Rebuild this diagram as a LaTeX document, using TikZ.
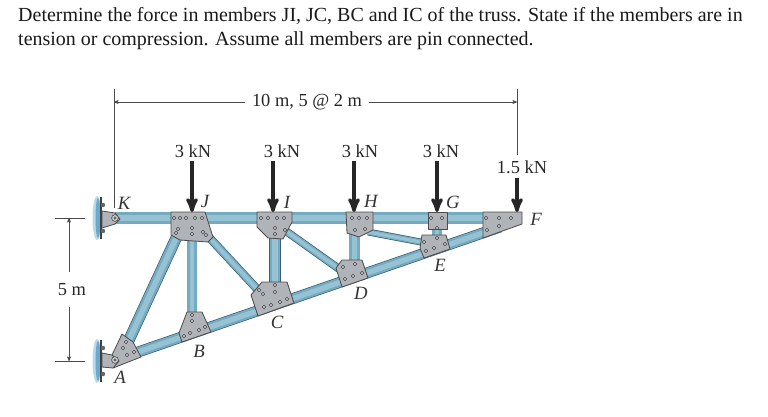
\documentclass[tikz,border=0pt]{standalone}
\usepackage{fontspec}
\setmainfont{Liberation Serif}
\usetikzlibrary{arrows}
\definecolor{steeldark}{RGB}{55,95,115}
\definecolor{steelblue}{RGB}{118,170,193}
\definecolor{steellight}{RGB}{150,195,212}
\definecolor{plategray}{RGB}{176,179,184}
\definecolor{wallblue}{RGB}{105,170,205}
\tikzset{
 plate/.style={draw=black!70, fill=plategray, line width=.7pt, line join=round},
 rivet/.style={draw=black!75, fill=plategray!60, line width=.5pt},
 load/.style={black!85, line width=2.8pt, ->, >=stealth'},
 dimline/.style={black!70, line width=.45pt, ->, >=stealth'},
 extline/.style={black!70, line width=.45pt},
 word/.style={font=\fontsize{15.7}{15.7}\selectfont, text=black!85, inner sep=2pt},
 joint/.style={font=\fontsize{16}{16}\selectfont\itshape, text=black!80, inner sep=0pt},
 title/.style={font=\fontsize{17.05}{17.05}\selectfont, anchor=base west, inner sep=0pt, text=black!90},
}
% one bar of the truss, w = width
\newcommand{\trussbar}[3]{
 \draw[steeldark, line width=#3*.85pt+.4pt] (#1) -- (#2);
 \draw[steelblue, line width=#3*.85pt-.8pt] (#1) -- (#2);
 \draw[steellight, line width=#3*.42pt] (#1) -- (#2);
}
\begin{document}
\begin{tikzpicture}[x=.03cm, y=-.03cm]
\useasboundingbox (0,0) rectangle (768,416);
\node[title] (line1) at (18,21) {Determine the force in members JI, JC, BC and IC of the truss. State if the members are in};
\node[title] (line2) at (18,45) {tension or compression. Assume all members are pin connected.};

% joints
\coordinate (K) at (115,218);
\coordinate (endF) at (490,218);
\coordinate (A) at (115,360);
\coordinate (endE) at (500,227);

% walls
\foreach \y in {218,361} {
 \fill[wallblue!45] (97,\y) ellipse (4.5 and 22);
 \fill[wallblue] (98,\y) ellipse (2.5 and 20);
 \fill[black!75] (99.5,\y-21) rectangle (101.5,\y+21);
 \fill[black!60] (103,\y-13) circle (2.2);
 \fill[black!60] (103,\y+13) circle (2.2);
}

% bars
\trussbar{K}{endF}{12}
\trussbar{A}{endE}{10.5}
\coordinate (a1) at (128,342); \coordinate (j1) at (178,234);
\trussbar{a1}{j1}{11}
\coordinate (j2) at (192,235); \coordinate (b1) at (192,316);
\trussbar{j2}{b1}{10}
\coordinate (j3) at (206,234); \coordinate (c1) at (258,290);
\trussbar{j3}{c1}{8}
\coordinate (i1) at (275,230); \coordinate (c2) at (275,288);
\trussbar{i1}{c2}{11}
\coordinate (i2) at (283,229); \coordinate (d1) at (342,271);
\trussbar{i2}{d1}{7.5}
\coordinate (h1) at (354.5,230); \coordinate (d2) at (354.5,265);
\trussbar{h1}{d2}{11}
\coordinate (h2) at (368,232); \coordinate (e1) at (426,243);
\trussbar{h2}{e1}{6.5}
\coordinate (g1) at (437,225); \coordinate (e2) at (437,238);
\trussbar{g1}{e2}{10}

% gusset plates
\draw[plate] (102,211)--(115,213)--(120,219)--(115,224)--(102,228)--cycle;
\draw[plate] (112,355)--(122,334)--(133,342)--(141,357)--(113,368)--cycle;
\draw[plate] (102,353)--(112,355)--(119,361)--(113,368)--(102,367)--cycle;
\draw[plate] (171,212)--(205,212)--(213,237)--(208,242)--(180,240)--(171,235)--cycle;
\draw[plate] (257,212)--(292,212)--(292,222)--(283,239)--(268,238)--(257,227)--cycle;
\draw[plate] (251,295)--(262,282)--(287,282)--(294,303)--(258,316)--cycle;
\draw[plate] (179,333)--(187,312)--(202,312)--(211,332)--(182,342)--cycle;
\draw[plate] (346,212)--(373,212)--(373,230)--(359,237)--(347,233)--cycle;
\draw[plate] (428,212)--(447,212)--(447,229)--(428,229)--cycle;
\draw[plate] (422,235)--(446,235)--(450,249)--(424,258)--(420,248)--cycle;
\draw[plate] (336,268)--(342,260)--(362,260)--(368,278)--(342,287)--cycle;
\draw[plate] (483,212)--(522,212)--(522,224)--(483,238)--cycle;

% rivets
\foreach \p in {(174,218),(180,218),(186,218),(195,218),(202,218),(178,229),(176,233),(192,228),(192,234),(203,232),(206,235),
 (261,218),(268,218),(277,218),(284,218),(275,228),(275,234),(285,230),
 (259,290),(263,294),(275,285),(275,292),(264,307),(271,305),(280,302),(287,299),
 (192,315),(192,321),(184,336),(190,333),(199,330),(205,327),
 (126,342),(123,348),(127,355),(134,352),
 (352,218),(359,218),(367,218),(355,230),(365,229),
 (431,218),(442,218),(437,228),
 (424,242),(437,238),(426,251),(434,248),(445,244),
 (343,267),(355,264),(345,279),(353,276),(362,273),
 (486,218),(499,218),(511,218),(487,230),(499,226)} {
 \draw[rivet] \p circle (1.7);
}
% pins
\foreach \p in {K,A} {
 \draw[rivet] (\p) circle (3.4);
 \draw[rivet] (\p) circle (1.3);
}

% loads
\foreach \x/\n/\m/\y in {192/J/193/151, 273/I/282/151, 354/H/360/151, 437/G/441/151} {
 \node[word] (load\n) at (\m,\y) {3 kN};
 \coordinate (top\n) at (\x,161);
 \coordinate (tip\n) at (\x,212);
 \draw[load] (top\n) -- (tip\n);
}
\node[word] (loadF) at (522,167) {1.5 kN};
\coordinate (topF) at (517,178);
\coordinate (tipF) at (517,212);
\draw[load] (topF) -- (tipF);

% joint names
\foreach \n/\x/\y in {K/124/203, J/205/201, I/287/202, H/371/201, G/453/202, F/536/219, E/440/265, D/361/293, C/277/322, B/199/351, A/120/377} {
 \node[joint] (name\n) at (\x,\y) {\n};
}

% dimensions
\node[word, inner sep=6pt] (span) at (307,102) {10 m, 5 @ 2 m};
\coordinate (spanL) at (114,102);
\coordinate (spanR) at (517,102);
\draw[dimline] (span) -- (spanL);
\draw[dimline] (span) -- (spanR);
\coordinate (extL) at (114,89);
\coordinate (extLb) at (114,208);
\draw[extline] (extL) -- (extLb);
\coordinate (extR) at (517,89);
\coordinate (extRb) at (517,155);
\draw[extline] (extR) -- (extRb);

\node[word, inner sep=6pt] (high) at (72,290) {5 m};
\coordinate (highT) at (69,218);
\coordinate (highB) at (69,361);
\coordinate (g1a) at (69,272);
\coordinate (g1b) at (69,307);
\draw[dimline] (g1a) -- (highT);
\draw[dimline] (g1b) -- (highB);
\coordinate (tickTa) at (55,218); \coordinate (tickTb) at (85,218);
\coordinate (tickBa) at (55,361); \coordinate (tickBb) at (85,361);
\draw[extline] (tickTa) -- (tickTb);
\draw[extline] (tickBa) -- (tickBb);
\end{tikzpicture}
\end{document}
